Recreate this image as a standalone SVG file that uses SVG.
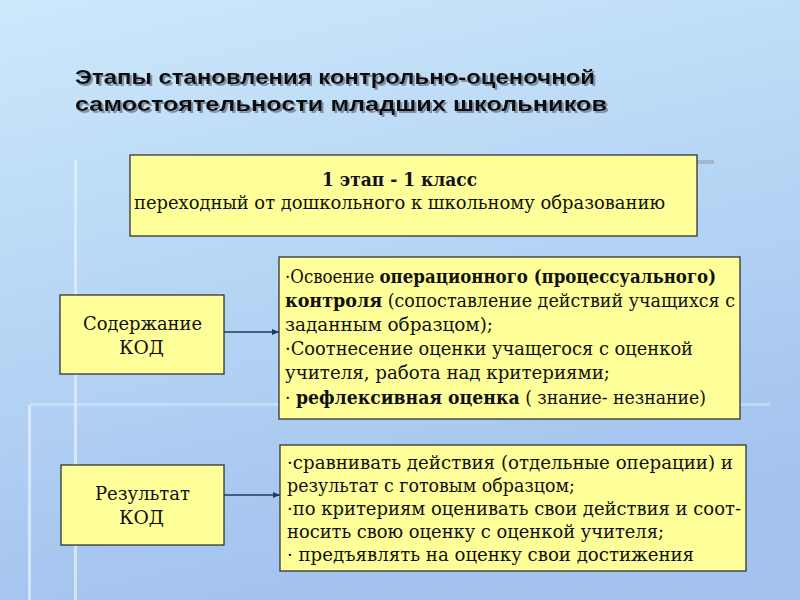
<svg xmlns="http://www.w3.org/2000/svg" width="800" height="600" viewBox="0 0 800 600">
<defs>
<linearGradient id="bg" x1="0" y1="0" x2="0.3" y2="1">
<stop offset="0" stop-color="#cde8fb"/><stop offset="0.5" stop-color="#b7d6f5"/><stop offset="1" stop-color="#a3c2ee"/>
</linearGradient>
<filter id="sh" x="-5%" y="-20%" width="110%" height="140%"><feDropShadow dx="2" dy="2" stdDeviation="0.6" flood-color="#7f90a5"/></filter>
<marker id="ar" markerWidth="8" markerHeight="8" refX="7" refY="4" orient="auto" markerUnits="userSpaceOnUse"><path d="M0,1 L7,4 L0,7 Z" fill="#1f3a60"/></marker>
</defs>
<style>
.box{fill:#ffff99;stroke:#333;stroke-width:1.3}
.t{font-family:"DejaVu Serif","Liberation Serif",serif;font-size:18px;fill:#111}
.b{font-weight:bold}
.h{font-family:"Liberation Sans",Arial,sans-serif;font-size:21px;font-weight:bold;fill:#111}
.c{stroke:#1f3a60;stroke-width:1.5;fill:none;marker-end:url(#ar)}
</style>
<rect width="800" height="600" fill="url(#bg)"/>
<rect x="74" y="160" width="3" height="440" fill="#e6f2fc" opacity="0.7"/>
<rect x="28" y="405" width="3" height="195" fill="#e6f2fc" opacity="0.7"/>
<rect x="30" y="403" width="740" height="3" fill="#e6f2fc" opacity="0.4"/>
<rect x="690" y="160" width="24" height="4" fill="#9aaab8" opacity="0.7"/>
<g id="title" filter="url(#sh)">
<text class="h" x="75" y="84" textLength="520" lengthAdjust="spacingAndGlyphs">Этапы становления контрольно-оценочной</text>
<text class="h" x="75" y="111" textLength="532" lengthAdjust="spacingAndGlyphs">самостоятельности младших школьников</text>
</g>
<g id="stage">
<rect class="box" x="130" y="155" width="567" height="81"/>
<text class="t b" x="322" y="186" textLength="155" lengthAdjust="spacingAndGlyphs">1 этап -  1 класс</text>
<text class="t" x="134" y="209" textLength="531" lengthAdjust="spacingAndGlyphs">переходный от дошкольного к школьному образованию</text>
</g>
<g id="content">
<rect class="box" x="60" y="295" width="164" height="79"/>
<text class="t" x="83" y="330" textLength="119" lengthAdjust="spacingAndGlyphs">Содержание</text>
<text class="t" x="119" y="354" textLength="45" lengthAdjust="spacingAndGlyphs">КОД</text>
</g>
<g id="content-desc">
<rect class="box" x="279" y="257" width="461" height="162"/>
<text class="t" x="285" y="283" textLength="431" lengthAdjust="spacingAndGlyphs">·Освоение <tspan class="b">операционного (процессуального)</tspan></text>
<text class="t" x="285" y="307" textLength="450" lengthAdjust="spacingAndGlyphs"><tspan class="b">контроля</tspan> (сопоставление действий учащихся с</text>
<text class="t" x="285" y="331" textLength="208" lengthAdjust="spacingAndGlyphs">заданным образцом);</text>
<text class="t" x="285" y="355" textLength="408" lengthAdjust="spacingAndGlyphs">·Соотнесение оценки учащегося с оценкой</text>
<text class="t" x="285" y="379" textLength="325" lengthAdjust="spacingAndGlyphs">учителя, работа над критериями;</text>
<text class="t" x="285" y="404" textLength="421" lengthAdjust="spacingAndGlyphs">·  <tspan class="b">рефлексивная оценка</tspan> ( знание- незнание)</text>
</g>
<g id="result">
<rect class="box" x="61" y="465" width="163" height="80"/>
<text class="t" x="95" y="500" textLength="95" lengthAdjust="spacingAndGlyphs">Результат</text>
<text class="t" x="119" y="524" textLength="45" lengthAdjust="spacingAndGlyphs">КОД</text>
</g>
<g id="result-desc">
<rect class="box" x="280" y="445" width="466" height="126"/>
<text class="t" x="287" y="469" textLength="446" lengthAdjust="spacingAndGlyphs">·сравнивать действия (отдельные операции) и</text>
<text class="t" x="287" y="492" textLength="288" lengthAdjust="spacingAndGlyphs">результат с готовым образцом;</text>
<text class="t" x="287" y="515" textLength="454" lengthAdjust="spacingAndGlyphs">·по критериям оценивать свои действия и соот-</text>
<text class="t" x="287" y="538" textLength="377" lengthAdjust="spacingAndGlyphs">носить свою оценку с оценкой учителя;</text>
<text class="t" x="287" y="561" textLength="407" lengthAdjust="spacingAndGlyphs">·  предъявлять на оценку свои достижения</text>
</g>
<g id="connectors">
<line class="c" x1="224" y1="332" x2="279" y2="332"/>
<line class="c" x1="224" y1="495" x2="280" y2="495"/>
</g>
</svg>
